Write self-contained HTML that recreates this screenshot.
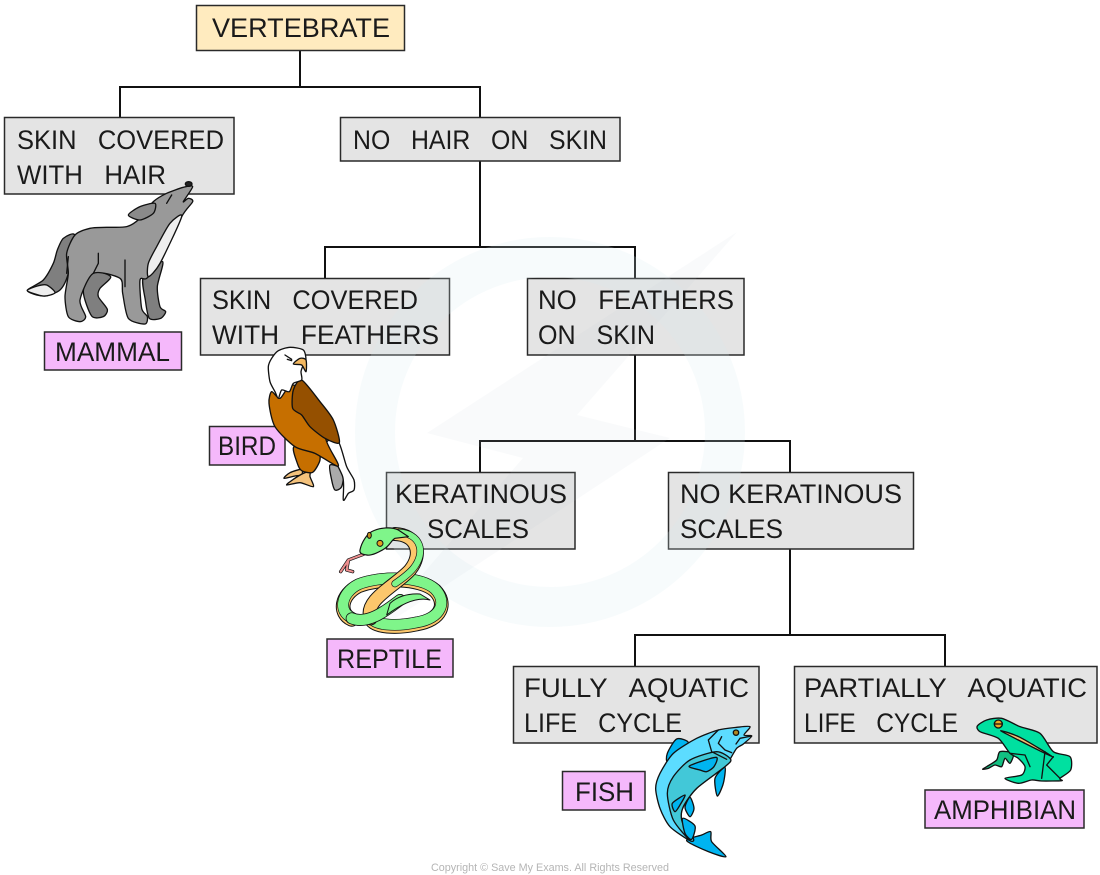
<!DOCTYPE html>
<html>
<head>
<meta charset="utf-8">
<style>
html,body{margin:0;padding:0;background:#fff;width:1100px;height:875px;overflow:hidden}
svg{display:block}
text{font-family:"Liberation Sans",sans-serif;font-size:27px;fill:#1a1a1a;white-space:pre}
.b{fill:#e4e4e4;stroke:#2a2a2a;stroke-width:1.5}
.p{fill:#f5b8fb;stroke:#2a2a2a;stroke-width:1.5}
.l{fill:none;stroke:#111;stroke-width:2}
.a path,.a ellipse{stroke:#111;stroke-width:4;stroke-linejoin:round;stroke-linecap:round}
.n path{fill:none;stroke-linecap:round;stroke-linejoin:round}
</style>
</head>
<body>
<svg width="1100" height="875" viewBox="0 0 1100 875" xmlns="http://www.w3.org/2000/svg">
<!-- connectors -->
<path class="l" d="M300 50V87M120 117V87H480V117M480 161V247M325 278V247H635V278M635 355V441M480 472V441H790V472M790 549V635M635 666V635H945V666"/>
<!-- boxes -->
<rect x="196.500" y="5.500" width="208" height="45" fill="#ffebbf" stroke="#2a2a2a" stroke-width="1.500"/>
<rect class="b" x="4.500" y="117.500" width="229.500" height="76.500"/>
<rect class="b" x="340.500" y="117.500" width="279.500" height="43.500"/>
<rect class="b" x="200.500" y="278.500" width="249" height="76.500"/>
<rect class="b" x="527.500" y="278.500" width="216.500" height="76.500"/>
<rect class="b" x="386.500" y="472.500" width="188.500" height="76.500"/>
<rect class="b" x="668.500" y="472.500" width="245" height="76.500"/>
<rect class="b" x="513.500" y="666.500" width="245.500" height="76.500"/>
<rect class="b" x="794.500" y="666.500" width="302.500" height="76.500"/>
<rect class="p" x="44.500" y="332" width="137" height="38"/>
<rect class="p" x="209.500" y="426.500" width="75.500" height="38.500"/>
<rect class="p" x="327" y="639" width="126" height="38"/>
<rect class="p" x="562.500" y="771.500" width="82.500" height="38.500"/>
<rect class="p" x="925" y="790" width="159" height="38"/>
<!-- watermark -->
<circle cx="550" cy="432" r="175" fill="none" stroke="#d8e9f2" stroke-opacity=".2" stroke-width="40"/>
<path d="M737 232L427 433L523 458L370 635L670 438L577 415Z" fill="#c8d2d6" fill-opacity=".1"/>
<!-- text -->
<text lengthAdjust="spacingAndGlyphs" x="212" y="37" textLength="178">VERTEBRATE</text>
<text lengthAdjust="spacingAndGlyphs" x="17" y="149" textLength="207">SKIN   COVERED</text>
<text lengthAdjust="spacingAndGlyphs" x="17" y="184" textLength="149">WITH   HAIR</text>
<text lengthAdjust="spacingAndGlyphs" x="353" y="149" textLength="254">NO   HAIR   ON   SKIN</text>
<text lengthAdjust="spacingAndGlyphs" x="212" y="309" textLength="206">SKIN   COVERED</text>
<text lengthAdjust="spacingAndGlyphs" x="212" y="344" textLength="227">WITH   FEATHERS</text>
<text lengthAdjust="spacingAndGlyphs" x="538" y="309" textLength="196">NO   FEATHERS</text>
<text lengthAdjust="spacingAndGlyphs" x="538" y="344" textLength="117">ON   SKIN</text>
<text lengthAdjust="spacingAndGlyphs" x="395" y="503" textLength="172">KERATINOUS</text>
<text lengthAdjust="spacingAndGlyphs" x="427" y="538" textLength="102">SCALES</text>
<text lengthAdjust="spacingAndGlyphs" x="680" y="503" textLength="222">NO KERATINOUS</text>
<text lengthAdjust="spacingAndGlyphs" x="680" y="538" textLength="103">SCALES</text>
<text lengthAdjust="spacingAndGlyphs" x="524" y="697" textLength="225">FULLY   AQUATIC</text>
<text lengthAdjust="spacingAndGlyphs" x="524" y="732" textLength="158">LIFE   CYCLE</text>
<text lengthAdjust="spacingAndGlyphs" x="804" y="697" textLength="283">PARTIALLY   AQUATIC</text>
<text lengthAdjust="spacingAndGlyphs" x="804" y="732" textLength="154">LIFE   CYCLE</text>
<text lengthAdjust="spacingAndGlyphs" x="55" y="361" textLength="115">MAMMAL</text>
<text lengthAdjust="spacingAndGlyphs" x="218" y="455" textLength="58">BIRD</text>
<text lengthAdjust="spacingAndGlyphs" x="337" y="668" textLength="105">REPTILE</text>
<text lengthAdjust="spacingAndGlyphs" x="575" y="801" textLength="59">FISH</text>
<text lengthAdjust="spacingAndGlyphs" x="934" y="819" textLength="142">AMPHIBIAN</text>
<text x="431" y="871" style="font-size:11px;fill:#b5b5b5" textLength="238" lengthAdjust="spacingAndGlyphs">Copyright © Save My Exams. All Rights Reserved</text>
<!-- wolf -->
<g class="a" transform="translate(0 100) scale(.33333)">
<path fill="#7f7f7f" d="M275 515L332 530L300 565L295 590L322 628L310 650L275 648L250 575Z"/>
<path fill="#7f7f7f" d="M430 530L488 485L472 560L480 620L497 635L482 655L448 655L436 600Z"/>
<path fill="#7f7f7f" d="M225 407L190 415L172 450L160 490L130 540L82 572L130 588L180 570L205 520Z"/>
<path fill="#eee" d="M82 572L130 588L165 578L140 555L112 558Z"/>
<path fill="#999" d="M578 260L550 262L500 280L460 305L420 355L380 380L320 382L270 385L225 405L200 460L205 520L195 590L205 650L240 665L257 650L240 600L280 520L360 535L368 580L385 655L435 672L442 650L425 625L420 540L440 535L480 490L545 350L578 305L565 295L550 305Z"/>
<path fill="#eee" d="M545 350L510 370L470 440L445 490L445 530L480 490Z"/>
<path fill="#8a8a8a" d="M385 345L420 320L465 310L460 340L420 360Z"/>
<ellipse cx="566" cy="252" rx="10" ry="7" fill="#222"/>
<path fill="none" d="M500 310L515 285M205 470L200 520M295 460L295 490L280 520M375 480L375 560"/>
</g>
<!-- eagle -->
<g class="a" transform="translate(200 330) scale(.33333)">
<path fill="#aaa" d="M390 405L430 420L425 470L405 480L395 450Z"/>
<path fill="#fff" d="M415 335L440 410L462 450L462 480L445 490L430 510L428 440L380 340Z"/>
<path fill="#f4c27c" d="M305 418L270 428L252 445L285 438L305 435Z"/>
<path fill="#f4c27c" d="M310 430L280 448L260 465L300 458L340 470L330 440L330 425Z"/>
<path fill="#c66f00" d="M282 350L292 400L305 422L338 427L360 390L350 360Z"/>
<path fill="#c66f00" d="M275 165L240 205L215 185L207 220L225 290L285 350L345 370L415 408L380 335L340 200Z"/>
<path fill="#955000" d="M305 150L280 180L278 235L305 255L330 290L375 325L418 338L400 270L360 215Z"/>
<path fill="#fff" d="M215 85L205 110L210 155L225 185L235 205L245 180L268 185L280 160L305 150L303 125L310 105L318 90L310 60L270 52L235 62Z"/>
<path fill="#f4b860" d="M280 102L300 85L318 90L318 125L305 105Z"/>
<path fill="none" d="M255 75L275 88M262 88L275 92"/>
</g>
<!-- snake -->
<g class="n" transform="translate(330 520) scale(.33333)">
<path stroke="#111" stroke-width="44" d="M122 295C130 322 200 325 260 312C335 300 352 250 315 212C270 172 150 172 85 198C32 225 25 280 65 298"/>
<path stroke="#fcc76c" stroke-width="38" d="M122 295C130 322 200 325 260 312C335 300 352 250 315 212C270 172 150 172 85 198C32 225 25 280 65 298"/>
<path stroke="#111" stroke-width="35" transform="translate(0 -5)" d="M122 295C130 322 200 325 260 312C335 300 352 250 315 212C270 172 150 172 85 198C32 225 25 280 65 298"/>
<path stroke="#7ff58a" stroke-width="31" transform="translate(0 -5)" d="M122 295C130 322 200 325 260 312C335 300 352 250 315 212C270 172 150 172 85 198C32 225 25 280 65 298"/>
<path stroke="#111" stroke-width="42" d="M195 42C260 45 280 100 240 150C200 195 100 240 122 295"/>
<path stroke="#fcc76c" stroke-width="36" d="M195 42C260 45 280 100 240 150C200 195 100 240 122 295"/>
<path stroke="#111" stroke-width="22" transform="translate(10 -5)" d="M195 42C260 45 280 100 240 150C225 168 205 182 185 196"/>
<path stroke="#7ff58a" stroke-width="18" transform="translate(10 -5)" d="M195 42C260 45 280 100 240 150C225 168 205 182 185 196"/>
<path stroke="#111" stroke-width="36" d="M65 295C115 315 170 270 210 240"/>
<path stroke="#7ff58a" stroke-width="31" d="M65 295C115 315 170 270 210 240"/>
<path d="M180 250C200 232 230 220 270 222L300 240C270 232 230 240 170 285Z" style="fill:#7ff58a" stroke="#111" stroke-width="3"/>
<path d="M100 103L55 120L32 155M55 122L50 150L68 155" stroke="#111" stroke-width="10"/>
<path d="M100 103L55 120L32 155M55 122L50 150L68 155" stroke="#ee8f8f" stroke-width="6"/>
<path style="fill:#7ff58a" stroke="#111" stroke-width="3.500" d="M90 90C95 65 112 42 125 35C150 22 185 20 205 30L235 50L195 55C185 60 180 75 165 85C150 95 125 108 110 105C95 103 88 100 90 90Z"/>
<circle cx="150" cy="70" r="9" fill="#e0a020" stroke="#111" stroke-width="3"/>
<ellipse cx="118" cy="46" rx="6" ry="9" fill="#c09020" stroke="#111" stroke-width="3"/>
</g>
<!-- fish -->
<g class="a" transform="translate(640 720) scale(.33333)">
<path fill="#00b4f0" d="M110 57L145 70L85 125L82 100Z"/>
<path fill="#00b4f0" d="M255 142L225 175L232 228L250 190Z"/>
<path fill="#00b4f0" d="M150 232L162 265L150 290L135 262Z"/>
<path fill="#00b4f0" d="M140 362L185 345L212 335L215 365L258 410L205 395Z"/>
<path fill="#5cdcff" d="M330 20L290 22L235 30L170 55L100 100L60 160L47 205L60 265L90 320L150 362L160 355L125 300L130 260L170 205L255 140L270 118L290 85L310 72L335 48L312 45Z"/>
<path fill="#42c8d8" d="M230 95L150 120L100 170L82 220L100 300L150 360L125 300L130 260L170 205L255 140L272 118Z"/>
<path fill="#00b4f0" d="M148 138L228 112L222 140L200 155L180 150Z"/>
<path fill="#00b4f0" d="M97 250L135 225L120 255L105 275Z"/>
<path fill="#00b4f0" d="M128 295L165 318L155 358L135 340Z"/>
<path fill="none" d="M235 30L205 60L215 95L260 118M245 50L235 70L255 90L275 98M335 48L300 55L288 72"/>
<ellipse cx="288" cy="38" rx="8" ry="8" fill="#b08820"/>
</g>
<!-- frog -->
<g class="a" transform="translate(960 710) scale(.33333)">
<path fill="#12c082" d="M120 125L110 150L80 170L68 178L85 175L105 165L125 170L135 145L150 160L160 130Z"/>
<path fill="#00e0a0" d="M52 48L80 30L125 25L180 50L240 70L280 125L330 140L332 180L300 205L305 212L245 213L215 210L175 220L135 205L185 195L195 170L175 145L150 130L115 85L60 65Z"/>
<path fill="#f4c070" stroke-width="2" d="M122 62L180 82L280 142L175 90Z"/>
<path fill="none" d="M150 130L195 135L210 170M255 125L245 205M280 140L260 165L300 205"/>
<ellipse cx="115" cy="42" rx="12" ry="12" fill="#e8a820"/>
<path fill="none" stroke-width="3" d="M103 42H127"/>
</g>
</svg>
<script>
// Smooth the closed animal outlines; shapes stay valid polygons if this does not run.
document.querySelectorAll('.a path').forEach(function(e){
  var d=e.getAttribute('d');
  if(!/^M[\d\s.L-]+Z$/.test(d))return;
  var n=d.match(/-?[\d.]+/g).map(Number),p=[],i;
  for(i=0;i<n.length;i+=2)p.push([n[i],n[i+1]]);
  var m=p.length,k=.13,o='M'+p[0].join(' ');
  for(i=0;i<m;i++){
    var a=p[(i+m-1)%m],b=p[i],c=p[(i+1)%m],f=p[(i+2)%m];
    o+='C'+(b[0]+(c[0]-a[0])*k)+' '+(b[1]+(c[1]-a[1])*k)+' '+(c[0]-(f[0]-b[0])*k)+' '+(c[1]-(f[1]-b[1])*k)+' '+c[0]+' '+c[1];
  }
  e.setAttribute('d',o+'Z');
});
</script>
</body>
</html>
